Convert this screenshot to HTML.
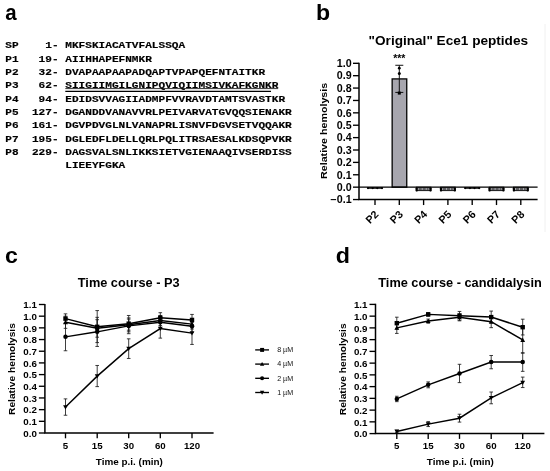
<!DOCTYPE html>
<html lang="en"><head><meta charset="utf-8"><title>Figure</title>
<style>
html,body{margin:0;padding:0;background:#fff;}
svg{display:block;}
text{font-family:"Liberation Sans", Arial, sans-serif;font-weight:bold;fill:#000;}
.m{font-family:"Liberation Mono", "Courier New", monospace;font-weight:bold;font-size:11.1px;stroke:#000;stroke-width:0.2px;}
.pl{font-size:22px;}
.yt{font-size:9.5px;}
.xt{font-size:9.7px;}
.ti{font-size:12.75px;}
.at{font-size:8.8px;}
.at2{font-size:9.1px;}
.bx{font-size:10.7px;}
.st{font-size:10.5px;}
.lg{font-size:7.1px;font-weight:normal;fill:#0d0d0d;}
</style></head><body>
<svg width="550" height="471" viewBox="0 0 550 471">
<rect width="550" height="471" fill="#fff"/>
<g class="mono">
<text class="m" transform="translate(5.3 48.25) scale(1.0 0.84)">SP</text>
<text class="m" transform="translate(58.59 48.25) scale(1.0 0.84)" text-anchor="end">1-</text>
<text class="m" transform="translate(65.25 48.25) scale(1.0 0.84)">MKFSKIACATVFALSSQA</text>
<text class="m" transform="translate(5.3 61.6) scale(1.0 0.84)">P1</text>
<text class="m" transform="translate(58.59 61.6) scale(1.0 0.84)" text-anchor="end">19-</text>
<text class="m" transform="translate(65.25 61.6) scale(1.0 0.84)">AIIHHAPEFNMKR</text>
<text class="m" transform="translate(5.3 74.95) scale(1.0 0.84)">P2</text>
<text class="m" transform="translate(58.59 74.95) scale(1.0 0.84)" text-anchor="end">32-</text>
<text class="m" transform="translate(65.25 74.95) scale(1.0 0.84)">DVAPAAPAAPADQAPTVPAPQEFNTAITKR</text>
<text class="m" transform="translate(5.3 88.3) scale(1.0 0.84)">P3</text>
<text class="m" transform="translate(58.59 88.3) scale(1.0 0.84)" text-anchor="end">62-</text>
<text class="m" transform="translate(65.25 88.3) scale(1.0 0.84)">SIIGIIMGILGNIPQVIQIIMSIVKAFKGNKR</text>
<text class="m" transform="translate(5.3 101.65) scale(1.0 0.84)">P4</text>
<text class="m" transform="translate(58.59 101.65) scale(1.0 0.84)" text-anchor="end">94-</text>
<text class="m" transform="translate(65.25 101.65) scale(1.0 0.84)">EDIDSVVAGIIADMPFVVRAVDTAMTSVASTKR</text>
<text class="m" transform="translate(5.3 115) scale(1.0 0.84)">P5</text>
<text class="m" transform="translate(58.59 115) scale(1.0 0.84)" text-anchor="end">127-</text>
<text class="m" transform="translate(65.25 115) scale(1.0 0.84)">DGANDDVANAVVRLPEIVARVATGVQQSIENAKR</text>
<text class="m" transform="translate(5.3 128.35) scale(1.0 0.84)">P6</text>
<text class="m" transform="translate(58.59 128.35) scale(1.0 0.84)" text-anchor="end">161-</text>
<text class="m" transform="translate(65.25 128.35) scale(1.0 0.84)">DGVPDVGLNLVANAPRLISNVFDGVSETVQQAKR</text>
<text class="m" transform="translate(5.3 141.7) scale(1.0 0.84)">P7</text>
<text class="m" transform="translate(58.59 141.7) scale(1.0 0.84)" text-anchor="end">195-</text>
<text class="m" transform="translate(65.25 141.7) scale(1.0 0.84)">DGLEDFLDELLQRLPQLITRSAESALKDSQPVKR</text>
<text class="m" transform="translate(5.3 155.05) scale(1.0 0.84)">P8</text>
<text class="m" transform="translate(58.59 155.05) scale(1.0 0.84)" text-anchor="end">229-</text>
<text class="m" transform="translate(65.25 155.05) scale(1.0 0.84)">DAGSVALSNLIKKSIETVGIENAAQIVSERDISS</text>
<text class="m" transform="translate(65.25 168.4) scale(1.0 0.84)">LIEEYFGKA</text>
</g>
<line x1="65.3" y1="88.6" x2="278.2" y2="88.6" stroke="#000" stroke-width="0.8"/>
<line x1="65.3" y1="91.4" x2="271" y2="91.4" stroke="#000" stroke-width="1.1"/>
<text class="pl" transform="translate(5.2 20) scale(0.93 1.0)" style="font-size:22px">a</text>
<text class="pl" transform="translate(316 20) scale(1.05 1.0)" style="font-size:22px">b</text>
<text class="pl" transform="translate(5 263.3) scale(1.05 1.0)" style="font-size:22px">c</text>
<text class="pl" transform="translate(335.8 262.9) scale(1.03 1.0)" style="font-size:22.6px">d</text>
<line x1="545" y1="24" x2="545" y2="232" stroke="#f0f0f0" stroke-width="1"/>
<path d="M44.9 303.9V433H213.6" stroke="#000" stroke-width="1.5" fill="none"/>
<line x1="38.9" y1="433" x2="44.9" y2="433" stroke="#000" stroke-width="1.35"/>
<text class="yt" transform="translate(36.9 436.7) scale(1.03 1.0)" text-anchor="end">0.0</text>
<line x1="38.9" y1="421.32" x2="44.9" y2="421.32" stroke="#000" stroke-width="1.35"/>
<text class="yt" transform="translate(36.9 425.02) scale(1.03 1.0)" text-anchor="end">0.1</text>
<line x1="38.9" y1="409.64" x2="44.9" y2="409.64" stroke="#000" stroke-width="1.35"/>
<text class="yt" transform="translate(36.9 413.34) scale(1.03 1.0)" text-anchor="end">0.2</text>
<line x1="38.9" y1="397.95" x2="44.9" y2="397.95" stroke="#000" stroke-width="1.35"/>
<text class="yt" transform="translate(36.9 401.65) scale(1.03 1.0)" text-anchor="end">0.3</text>
<line x1="38.9" y1="386.27" x2="44.9" y2="386.27" stroke="#000" stroke-width="1.35"/>
<text class="yt" transform="translate(36.9 389.97) scale(1.03 1.0)" text-anchor="end">0.4</text>
<line x1="38.9" y1="374.59" x2="44.9" y2="374.59" stroke="#000" stroke-width="1.35"/>
<text class="yt" transform="translate(36.9 378.29) scale(1.03 1.0)" text-anchor="end">0.5</text>
<line x1="38.9" y1="362.91" x2="44.9" y2="362.91" stroke="#000" stroke-width="1.35"/>
<text class="yt" transform="translate(36.9 366.61) scale(1.03 1.0)" text-anchor="end">0.6</text>
<line x1="38.9" y1="351.23" x2="44.9" y2="351.23" stroke="#000" stroke-width="1.35"/>
<text class="yt" transform="translate(36.9 354.93) scale(1.03 1.0)" text-anchor="end">0.7</text>
<line x1="38.9" y1="339.55" x2="44.9" y2="339.55" stroke="#000" stroke-width="1.35"/>
<text class="yt" transform="translate(36.9 343.25) scale(1.03 1.0)" text-anchor="end">0.8</text>
<line x1="38.9" y1="327.86" x2="44.9" y2="327.86" stroke="#000" stroke-width="1.35"/>
<text class="yt" transform="translate(36.9 331.56) scale(1.03 1.0)" text-anchor="end">0.9</text>
<line x1="38.9" y1="316.18" x2="44.9" y2="316.18" stroke="#000" stroke-width="1.35"/>
<text class="yt" transform="translate(36.9 319.88) scale(1.03 1.0)" text-anchor="end">1.0</text>
<line x1="38.9" y1="304.5" x2="44.9" y2="304.5" stroke="#000" stroke-width="1.35"/>
<text class="yt" transform="translate(36.9 308.2) scale(1.03 1.0)" text-anchor="end">1.1</text>
<line x1="65.5" y1="433" x2="65.5" y2="438.3" stroke="#000" stroke-width="1.35"/>
<text class="xt" transform="translate(65.5 449)" text-anchor="middle">5</text>
<line x1="97.2" y1="433" x2="97.2" y2="438.3" stroke="#000" stroke-width="1.35"/>
<text class="xt" transform="translate(97.2 449)" text-anchor="middle">15</text>
<line x1="128.7" y1="433" x2="128.7" y2="438.3" stroke="#000" stroke-width="1.35"/>
<text class="xt" transform="translate(128.7 449)" text-anchor="middle">30</text>
<line x1="160.3" y1="433" x2="160.3" y2="438.3" stroke="#000" stroke-width="1.35"/>
<text class="xt" transform="translate(160.3 449)" text-anchor="middle">60</text>
<line x1="192" y1="433" x2="192" y2="438.3" stroke="#000" stroke-width="1.35"/>
<text class="xt" transform="translate(192 449)" text-anchor="middle">120</text>
<text class="ti" transform="translate(128.7 287.3)" text-anchor="middle">Time course - P3</text>
<text class="at" transform="translate(129.3 465.2) scale(1.13 1.0)" text-anchor="middle">Time p.i. (min)</text>
<text class="at2" transform="translate(15.2 369.05) rotate(-90) scale(1.12 1.0)" text-anchor="middle">Relative hemolysis</text>
<path d="M65.5 313.85V323.19M63.7 313.85H67.3M63.7 323.19H67.3" stroke="#1c1c1c" stroke-width="0.85" fill="none"/>
<path d="M97.2 310.57V342.58M95.4 310.57H99M95.4 342.58H99" stroke="#1c1c1c" stroke-width="0.85" fill="none"/>
<path d="M128.7 315.48V331.84M126.9 315.48H130.5M126.9 331.84H130.5" stroke="#1c1c1c" stroke-width="0.85" fill="none"/>
<path d="M160.3 312.68V322.61M158.5 312.68H162.1M158.5 322.61H162.1" stroke="#1c1c1c" stroke-width="0.85" fill="none"/>
<path d="M192 314.43V324.94M190.2 314.43H193.8M190.2 324.94H193.8" stroke="#1c1c1c" stroke-width="0.85" fill="none"/>
<path d="M65.5 316.18V328.33M63.7 316.18H67.3M63.7 328.33H67.3" stroke="#1c1c1c" stroke-width="0.85" fill="none"/>
<path d="M97.2 319.69V337.21M95.4 319.69H99M95.4 337.21H99" stroke="#1c1c1c" stroke-width="0.85" fill="none"/>
<path d="M128.7 319.1V330.2M126.9 319.1H130.5M126.9 330.2H130.5" stroke="#1c1c1c" stroke-width="0.85" fill="none"/>
<path d="M160.3 315.6V325.53M158.5 315.6H162.1M158.5 325.53H162.1" stroke="#1c1c1c" stroke-width="0.85" fill="none"/>
<path d="M192 319.1V329.03M190.2 319.1H193.8M190.2 329.03H193.8" stroke="#1c1c1c" stroke-width="0.85" fill="none"/>
<path d="M65.5 323.19V350.76M63.7 323.19H67.3M63.7 350.76H67.3" stroke="#1c1c1c" stroke-width="0.85" fill="none"/>
<path d="M97.2 317.35V346.44M95.4 317.35H99M95.4 346.44H99" stroke="#1c1c1c" stroke-width="0.85" fill="none"/>
<path d="M128.7 317.93V333.7M126.9 317.93H130.5M126.9 333.7H130.5" stroke="#1c1c1c" stroke-width="0.85" fill="none"/>
<path d="M160.3 316.77V327.86M158.5 316.77H162.1M158.5 327.86H162.1" stroke="#1c1c1c" stroke-width="0.85" fill="none"/>
<path d="M192 320.27V332.54M190.2 320.27H193.8M190.2 332.54H193.8" stroke="#1c1c1c" stroke-width="0.85" fill="none"/>
<path d="M65.5 398.89V415.24M63.7 398.89H67.3M63.7 415.24H67.3" stroke="#1c1c1c" stroke-width="0.85" fill="none"/>
<path d="M97.2 365.48V386.62M95.4 365.48H99M95.4 386.62H99" stroke="#1c1c1c" stroke-width="0.85" fill="none"/>
<path d="M128.7 338.84V358.47M126.9 338.84H130.5M126.9 358.47H130.5" stroke="#1c1c1c" stroke-width="0.85" fill="none"/>
<path d="M160.3 321.44V338.14M158.5 321.44H162.1M158.5 338.14H162.1" stroke="#1c1c1c" stroke-width="0.85" fill="none"/>
<path d="M192 322.61V344.45M190.2 322.61H193.8M190.2 344.45H193.8" stroke="#1c1c1c" stroke-width="0.85" fill="none"/>
<polyline points="65.5,318.63 97.2,326.81 128.7,323.66 160.3,317.7 192,319.92" fill="none" stroke="#000" stroke-width="1.45"/>
<rect x="63.3" y="316.44" width="4.4" height="4.4"/>
<rect x="95" y="324.61" width="4.4" height="4.4"/>
<rect x="126.5" y="321.46" width="4.4" height="4.4"/>
<rect x="158.1" y="315.5" width="4.4" height="4.4"/>
<rect x="189.8" y="317.72" width="4.4" height="4.4"/>
<polyline points="65.5,322.26 97.2,328.21 128.7,324.71 160.3,320.5 192,324.13" fill="none" stroke="#000" stroke-width="1.45"/>
<path d="M65.5 319.86L67.9 324.18L63.1 324.18Z"/>
<path d="M97.2 325.81L99.6 330.13L94.8 330.13Z"/>
<path d="M128.7 322.31L131.1 326.63L126.3 326.63Z"/>
<path d="M160.3 318.1L162.7 322.42L157.9 322.42Z"/>
<path d="M192 321.73L194.4 326.05L189.6 326.05Z"/>
<polyline points="65.5,336.86 97.2,331.84 128.7,325.88 160.3,322.26 192,326.23" fill="none" stroke="#000" stroke-width="1.45"/>
<circle cx="65.5" cy="336.86" r="2.25"/>
<circle cx="97.2" cy="331.84" r="2.25"/>
<circle cx="128.7" cy="325.88" r="2.25"/>
<circle cx="160.3" cy="322.26" r="2.25"/>
<circle cx="192" cy="326.23" r="2.25"/>
<polyline points="65.5,407.07 97.2,376.11 128.7,348.66 160.3,328.56 192,333.12" fill="none" stroke="#000" stroke-width="1.45"/>
<path d="M65.5 409.47L67.9 405.15L63.1 405.15Z"/>
<path d="M97.2 378.51L99.6 374.19L94.8 374.19Z"/>
<path d="M128.7 351.06L131.1 346.74L126.3 346.74Z"/>
<path d="M160.3 330.96L162.7 326.64L157.9 326.64Z"/>
<path d="M192 335.52L194.4 331.2L189.6 331.2Z"/>
<path d="M375.5 303.8V433.6H544.4" stroke="#000" stroke-width="1.5" fill="none"/>
<line x1="369.5" y1="433.6" x2="375.5" y2="433.6" stroke="#000" stroke-width="1.35"/>
<text class="yt" transform="translate(367.5 437.3) scale(1.03 1.0)" text-anchor="end">0.0</text>
<line x1="369.5" y1="421.85" x2="375.5" y2="421.85" stroke="#000" stroke-width="1.35"/>
<text class="yt" transform="translate(367.5 425.55) scale(1.03 1.0)" text-anchor="end">0.1</text>
<line x1="369.5" y1="410.11" x2="375.5" y2="410.11" stroke="#000" stroke-width="1.35"/>
<text class="yt" transform="translate(367.5 413.81) scale(1.03 1.0)" text-anchor="end">0.2</text>
<line x1="369.5" y1="398.36" x2="375.5" y2="398.36" stroke="#000" stroke-width="1.35"/>
<text class="yt" transform="translate(367.5 402.06) scale(1.03 1.0)" text-anchor="end">0.3</text>
<line x1="369.5" y1="386.62" x2="375.5" y2="386.62" stroke="#000" stroke-width="1.35"/>
<text class="yt" transform="translate(367.5 390.32) scale(1.03 1.0)" text-anchor="end">0.4</text>
<line x1="369.5" y1="374.87" x2="375.5" y2="374.87" stroke="#000" stroke-width="1.35"/>
<text class="yt" transform="translate(367.5 378.57) scale(1.03 1.0)" text-anchor="end">0.5</text>
<line x1="369.5" y1="363.13" x2="375.5" y2="363.13" stroke="#000" stroke-width="1.35"/>
<text class="yt" transform="translate(367.5 366.83) scale(1.03 1.0)" text-anchor="end">0.6</text>
<line x1="369.5" y1="351.38" x2="375.5" y2="351.38" stroke="#000" stroke-width="1.35"/>
<text class="yt" transform="translate(367.5 355.08) scale(1.03 1.0)" text-anchor="end">0.7</text>
<line x1="369.5" y1="339.64" x2="375.5" y2="339.64" stroke="#000" stroke-width="1.35"/>
<text class="yt" transform="translate(367.5 343.34) scale(1.03 1.0)" text-anchor="end">0.8</text>
<line x1="369.5" y1="327.89" x2="375.5" y2="327.89" stroke="#000" stroke-width="1.35"/>
<text class="yt" transform="translate(367.5 331.59) scale(1.03 1.0)" text-anchor="end">0.9</text>
<line x1="369.5" y1="316.15" x2="375.5" y2="316.15" stroke="#000" stroke-width="1.35"/>
<text class="yt" transform="translate(367.5 319.85) scale(1.03 1.0)" text-anchor="end">1.0</text>
<line x1="369.5" y1="304.4" x2="375.5" y2="304.4" stroke="#000" stroke-width="1.35"/>
<text class="yt" transform="translate(367.5 308.1) scale(1.03 1.0)" text-anchor="end">1.1</text>
<line x1="396.8" y1="433.6" x2="396.8" y2="438.9" stroke="#000" stroke-width="1.35"/>
<text class="xt" transform="translate(396.8 449)" text-anchor="middle">5</text>
<line x1="428.2" y1="433.6" x2="428.2" y2="438.9" stroke="#000" stroke-width="1.35"/>
<text class="xt" transform="translate(428.2 449)" text-anchor="middle">15</text>
<line x1="459.5" y1="433.6" x2="459.5" y2="438.9" stroke="#000" stroke-width="1.35"/>
<text class="xt" transform="translate(459.5 449)" text-anchor="middle">30</text>
<line x1="491.2" y1="433.6" x2="491.2" y2="438.9" stroke="#000" stroke-width="1.35"/>
<text class="xt" transform="translate(491.2 449)" text-anchor="middle">60</text>
<line x1="522.7" y1="433.6" x2="522.7" y2="438.9" stroke="#000" stroke-width="1.35"/>
<text class="xt" transform="translate(522.7 449)" text-anchor="middle">120</text>
<text class="ti" transform="translate(460 287.3)" text-anchor="middle">Time course - candidalysin</text>
<text class="at" transform="translate(460.3 465.2) scale(1.13 1.0)" text-anchor="middle">Time p.i. (min)</text>
<text class="at2" transform="translate(346 369.3) rotate(-90) scale(1.12 1.0)" text-anchor="middle">Relative hemolysis</text>
<path d="M396.8 317.2V329.07M395 317.2H398.6M395 329.07H398.6" stroke="#1c1c1c" stroke-width="0.85" fill="none"/>
<path d="M428.2 312.62V316.15M426.4 312.62H430M426.4 316.15H430" stroke="#1c1c1c" stroke-width="0.85" fill="none"/>
<path d="M459.5 311.45V320.26M457.7 311.45H461.3M457.7 320.26H461.3" stroke="#1c1c1c" stroke-width="0.85" fill="none"/>
<path d="M491.2 311.09V323.19M489.4 311.09H493M489.4 323.19H493" stroke="#1c1c1c" stroke-width="0.85" fill="none"/>
<path d="M522.7 319.2V334.94M520.9 319.2H524.5M520.9 334.94H524.5" stroke="#1c1c1c" stroke-width="0.85" fill="none"/>
<path d="M396.8 322.02V333.41M395 322.02H398.6M395 333.41H398.6" stroke="#1c1c1c" stroke-width="0.85" fill="none"/>
<path d="M428.2 319.08V323.19M426.4 319.08H430M426.4 323.19H430" stroke="#1c1c1c" stroke-width="0.85" fill="none"/>
<path d="M459.5 313.8V320.84M457.7 313.8H461.3M457.7 320.84H461.3" stroke="#1c1c1c" stroke-width="0.85" fill="none"/>
<path d="M491.2 316.15V327.66M489.4 316.15H493M489.4 327.66H493" stroke="#1c1c1c" stroke-width="0.85" fill="none"/>
<path d="M522.7 326.72V353.14M520.9 326.72H524.5M520.9 353.14H524.5" stroke="#1c1c1c" stroke-width="0.85" fill="none"/>
<path d="M396.8 396.25V401.65M395 396.25H398.6M395 401.65H398.6" stroke="#1c1c1c" stroke-width="0.85" fill="none"/>
<path d="M428.2 381.92V387.79M426.4 381.92H430M426.4 387.79H430" stroke="#1c1c1c" stroke-width="0.85" fill="none"/>
<path d="M459.5 364.3V382.62M457.7 364.3H461.3M457.7 382.62H461.3" stroke="#1c1c1c" stroke-width="0.85" fill="none"/>
<path d="M491.2 355.49V368.77M489.4 355.49H493M489.4 368.77H493" stroke="#1c1c1c" stroke-width="0.85" fill="none"/>
<path d="M522.7 352.79V371.35M520.9 352.79H524.5M520.9 371.35H524.5" stroke="#1c1c1c" stroke-width="0.85" fill="none"/>
<path d="M396.8 430.31V432.66M395 430.31H398.6M395 432.66H398.6" stroke="#1c1c1c" stroke-width="0.85" fill="none"/>
<path d="M428.2 421.62V426.55M426.4 421.62H430M426.4 426.55H430" stroke="#1c1c1c" stroke-width="0.85" fill="none"/>
<path d="M459.5 414.22V422.09M457.7 414.22H461.3M457.7 422.09H461.3" stroke="#1c1c1c" stroke-width="0.85" fill="none"/>
<path d="M491.2 392.02V403.77M489.4 392.02H493M489.4 403.77H493" stroke="#1c1c1c" stroke-width="0.85" fill="none"/>
<path d="M522.7 377.1V387.56M520.9 377.1H524.5M520.9 387.56H524.5" stroke="#1c1c1c" stroke-width="0.85" fill="none"/>
<polyline points="396.8,323.19 428.2,314.38 459.5,315.68 491.2,317.09 522.7,327.19" fill="none" stroke="#000" stroke-width="1.45"/>
<rect x="394.6" y="320.99" width="4.4" height="4.4"/>
<rect x="426" y="312.18" width="4.4" height="4.4"/>
<rect x="457.3" y="313.48" width="4.4" height="4.4"/>
<rect x="489" y="314.89" width="4.4" height="4.4"/>
<rect x="520.5" y="324.99" width="4.4" height="4.4"/>
<polyline points="396.8,327.89 428.2,321.08 459.5,317.32 491.2,321.67 522.7,339.99" fill="none" stroke="#000" stroke-width="1.45"/>
<path d="M396.8 325.49L399.2 329.81L394.4 329.81Z"/>
<path d="M428.2 318.68L430.6 323L425.8 323Z"/>
<path d="M459.5 314.92L461.9 319.24L457.1 319.24Z"/>
<path d="M491.2 319.27L493.6 323.59L488.8 323.59Z"/>
<path d="M522.7 337.59L525.1 341.91L520.3 341.91Z"/>
<polyline points="396.8,398.95 428.2,384.86 459.5,373.46 491.2,362.07 522.7,362.07" fill="none" stroke="#000" stroke-width="1.45"/>
<circle cx="396.8" cy="398.95" r="2.25"/>
<circle cx="428.2" cy="384.86" r="2.25"/>
<circle cx="459.5" cy="373.46" r="2.25"/>
<circle cx="491.2" cy="362.07" r="2.25"/>
<circle cx="522.7" cy="362.07" r="2.25"/>
<polyline points="396.8,431.49 428.2,424.09 459.5,418.21 491.2,397.89 522.7,382.62" fill="none" stroke="#000" stroke-width="1.45"/>
<path d="M396.8 433.89L399.2 429.57L394.4 429.57Z"/>
<path d="M428.2 426.49L430.6 422.17L425.8 422.17Z"/>
<path d="M459.5 420.61L461.9 416.29L457.1 416.29Z"/>
<path d="M491.2 400.29L493.6 395.97L488.8 395.97Z"/>
<path d="M522.7 385.02L525.1 380.7L520.3 380.7Z"/>
<line x1="255.2" y1="349.9" x2="269" y2="349.9" stroke="#000" stroke-width="1.35"/>
<rect x="260.12" y="347.92" width="3.96" height="3.96"/>
<text class="lg" x="277.2" y="352.15">8 µM</text>
<line x1="255.2" y1="364.1" x2="269" y2="364.1" stroke="#000" stroke-width="1.35"/>
<path d="M262.1 361.94L264.26 365.83L259.94 365.83Z"/>
<text class="lg" x="277.2" y="366.35">4 µM</text>
<line x1="255.2" y1="378.3" x2="269" y2="378.3" stroke="#000" stroke-width="1.35"/>
<circle cx="262.1" cy="378.3" r="2.02"/>
<text class="lg" x="277.2" y="380.55">2 µM</text>
<line x1="255.2" y1="392.5" x2="269" y2="392.5" stroke="#000" stroke-width="1.35"/>
<path d="M262.1 394.66L264.26 390.77L259.94 390.77Z"/>
<text class="lg" x="277.2" y="394.75">1 µM</text>
<path d="M359 62.7V199.55H537.6" stroke="#000" stroke-width="1.5" fill="none"/>
<line x1="353" y1="199.55" x2="359" y2="199.55" stroke="#000" stroke-width="1.35"/>
<text class="yt" transform="translate(351.6 203.3) scale(1.05 1.0)" text-anchor="end" style="font-size:10.2px">−0.1</text>
<line x1="353" y1="187.16" x2="359" y2="187.16" stroke="#000" stroke-width="1.35"/>
<text class="yt" transform="translate(351.6 190.91) scale(1.05 1.0)" text-anchor="end" style="font-size:10.2px">0.0</text>
<line x1="353" y1="174.77" x2="359" y2="174.77" stroke="#000" stroke-width="1.35"/>
<text class="yt" transform="translate(351.6 178.52) scale(1.05 1.0)" text-anchor="end" style="font-size:10.2px">0.1</text>
<line x1="353" y1="162.39" x2="359" y2="162.39" stroke="#000" stroke-width="1.35"/>
<text class="yt" transform="translate(351.6 166.14) scale(1.05 1.0)" text-anchor="end" style="font-size:10.2px">0.2</text>
<line x1="353" y1="150" x2="359" y2="150" stroke="#000" stroke-width="1.35"/>
<text class="yt" transform="translate(351.6 153.75) scale(1.05 1.0)" text-anchor="end" style="font-size:10.2px">0.3</text>
<line x1="353" y1="137.62" x2="359" y2="137.62" stroke="#000" stroke-width="1.35"/>
<text class="yt" transform="translate(351.6 141.37) scale(1.05 1.0)" text-anchor="end" style="font-size:10.2px">0.4</text>
<line x1="353" y1="125.23" x2="359" y2="125.23" stroke="#000" stroke-width="1.35"/>
<text class="yt" transform="translate(351.6 128.98) scale(1.05 1.0)" text-anchor="end" style="font-size:10.2px">0.5</text>
<line x1="353" y1="112.84" x2="359" y2="112.84" stroke="#000" stroke-width="1.35"/>
<text class="yt" transform="translate(351.6 116.59) scale(1.05 1.0)" text-anchor="end" style="font-size:10.2px">0.6</text>
<line x1="353" y1="100.46" x2="359" y2="100.46" stroke="#000" stroke-width="1.35"/>
<text class="yt" transform="translate(351.6 104.21) scale(1.05 1.0)" text-anchor="end" style="font-size:10.2px">0.7</text>
<line x1="353" y1="88.07" x2="359" y2="88.07" stroke="#000" stroke-width="1.35"/>
<text class="yt" transform="translate(351.6 91.82) scale(1.05 1.0)" text-anchor="end" style="font-size:10.2px">0.8</text>
<line x1="353" y1="75.69" x2="359" y2="75.69" stroke="#000" stroke-width="1.35"/>
<text class="yt" transform="translate(351.6 79.44) scale(1.05 1.0)" text-anchor="end" style="font-size:10.2px">0.9</text>
<line x1="353" y1="63.3" x2="359" y2="63.3" stroke="#000" stroke-width="1.35"/>
<text class="yt" transform="translate(351.6 67.05) scale(1.05 1.0)" text-anchor="end" style="font-size:10.2px">1.0</text>
<rect x="367.4" y="187.26" width="15.2" height="1.5" fill="#000"/>
<circle cx="368" cy="188.06" r="1.15"/>
<circle cx="372.7" cy="188.06" r="1.15"/>
<circle cx="377.3" cy="188.06" r="1.15"/>
<circle cx="382" cy="188.06" r="1.15"/>
<rect x="392.15" y="78.91" width="14.6" height="108.25" fill="#a7a6ae" stroke="#000" stroke-width="1.3"/>
<rect x="416.3" y="187.16" width="14.6" height="3.47" fill="#b9b9bf" stroke="#000" stroke-width="0.9"/>
<line x1="418.6" y1="189.07" x2="428.6" y2="189.07" stroke="#000" stroke-width="1.1" stroke-dasharray="3.2 0.8"/>
<rect x="415.6" y="187.46" width="2.2" height="3.97" rx="0.8"/>
<rect x="429.4" y="187.46" width="2.2" height="3.97" rx="0.8"/>
<rect x="440.6" y="187.16" width="14.6" height="3.47" fill="#b9b9bf" stroke="#000" stroke-width="0.9"/>
<line x1="442.9" y1="189.07" x2="452.9" y2="189.07" stroke="#000" stroke-width="1.1" stroke-dasharray="3.2 0.8"/>
<rect x="439.9" y="187.46" width="2.2" height="3.97" rx="0.8"/>
<rect x="453.7" y="187.46" width="2.2" height="3.97" rx="0.8"/>
<rect x="464.6" y="187.26" width="15.2" height="1.5" fill="#000"/>
<circle cx="465.2" cy="188.06" r="1.15"/>
<circle cx="469.9" cy="188.06" r="1.15"/>
<circle cx="474.5" cy="188.06" r="1.15"/>
<circle cx="479.2" cy="188.06" r="1.15"/>
<rect x="489.2" y="187.16" width="14.6" height="3.47" fill="#b9b9bf" stroke="#000" stroke-width="0.9"/>
<line x1="491.5" y1="189.07" x2="501.5" y2="189.07" stroke="#000" stroke-width="1.1" stroke-dasharray="3.2 0.8"/>
<rect x="488.5" y="187.46" width="2.2" height="3.97" rx="0.8"/>
<rect x="502.3" y="187.46" width="2.2" height="3.97" rx="0.8"/>
<rect x="513.5" y="187.16" width="14.6" height="3.47" fill="#b9b9bf" stroke="#000" stroke-width="0.9"/>
<line x1="515.8" y1="189.07" x2="525.8" y2="189.07" stroke="#000" stroke-width="1.1" stroke-dasharray="3.2 0.8"/>
<rect x="512.8" y="187.46" width="2.2" height="3.97" rx="0.8"/>
<rect x="526.6" y="187.46" width="2.2" height="3.97" rx="0.8"/>
<line x1="359" y1="187.16" x2="537.6" y2="187.16" stroke="#000" stroke-width="1.15"/>
<path d="M399.3 65.28V92.41M395.3 65.28H403.3M395.3 92.41H403.3" stroke="#111" stroke-width="1.0" fill="none"/>
<circle cx="399.3" cy="68.2" r="1.4"/>
<circle cx="399.3" cy="73.4" r="1.5"/>
<rect x="397.8" y="91.6" width="3" height="3"/>
<text class="st" transform="translate(399.3 61.6)" text-anchor="middle">***</text>
<line x1="375" y1="199.55" x2="375" y2="205.05" stroke="#000" stroke-width="1.35"/>
<text class="bx" transform="translate(379.3 214.95) rotate(-45)" text-anchor="end">P2</text>
<line x1="399.3" y1="199.55" x2="399.3" y2="205.05" stroke="#000" stroke-width="1.35"/>
<text class="bx" transform="translate(403.6 214.95) rotate(-45)" text-anchor="end">P3</text>
<line x1="423.6" y1="199.55" x2="423.6" y2="205.05" stroke="#000" stroke-width="1.35"/>
<text class="bx" transform="translate(427.9 214.95) rotate(-45)" text-anchor="end">P4</text>
<line x1="447.9" y1="199.55" x2="447.9" y2="205.05" stroke="#000" stroke-width="1.35"/>
<text class="bx" transform="translate(452.2 214.95) rotate(-45)" text-anchor="end">P5</text>
<line x1="472.2" y1="199.55" x2="472.2" y2="205.05" stroke="#000" stroke-width="1.35"/>
<text class="bx" transform="translate(476.5 214.95) rotate(-45)" text-anchor="end">P6</text>
<line x1="496.5" y1="199.55" x2="496.5" y2="205.05" stroke="#000" stroke-width="1.35"/>
<text class="bx" transform="translate(500.8 214.95) rotate(-45)" text-anchor="end">P7</text>
<line x1="520.8" y1="199.55" x2="520.8" y2="205.05" stroke="#000" stroke-width="1.35"/>
<text class="bx" transform="translate(525.1 214.95) rotate(-45)" text-anchor="end">P8</text>
<text class="ti" transform="translate(448.3 45.4)" text-anchor="middle" style="font-size:13.6px">"Original" Ece1 peptides</text>
<text class="at2" transform="translate(327 130.9) rotate(-90) scale(1.17 1.0)" text-anchor="middle" style="font-size:9.15px">Relative hemolysis</text>
</svg>
</body></html>
